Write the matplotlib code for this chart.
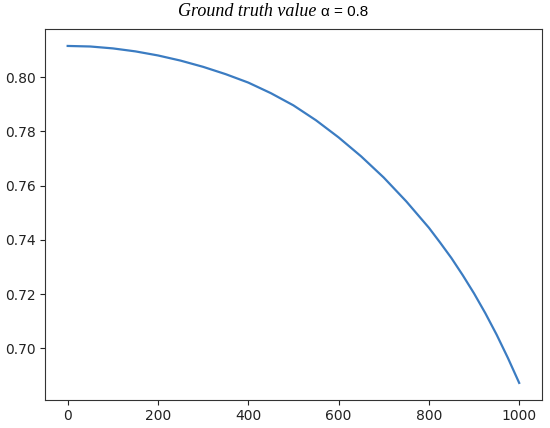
import numpy as np
import matplotlib.pyplot as plt

# values
steps = [0, 50, 100, 150, 200, 250, 300, 350, 400, 450, 500, 550,
         600, 650, 700, 750, 800, 825, 850, 875, 900, 925, 950, 975, 1000]
values = [0.8115, 0.8113, 0.8106, 0.8095, 0.8080, 0.8061, 0.8038, 0.8011,
          0.7980, 0.7941, 0.7896, 0.7841, 0.7778, 0.7708, 0.7630, 0.7542,
          0.7445, 0.7390, 0.7333, 0.7270, 0.7203, 0.7130, 0.7051, 0.6965,
          0.6873]

fig = plt.figure(figsize=(5.5, 4.28), dpi=100)
ax = fig.add_axes([0.082, 0.066, 0.903, 0.866])

ax.plot(steps, values, color='#3b7cc2', linewidth=1.6, solid_joinstyle='round')
ax.set_yticks([0.70, 0.72, 0.74, 0.76, 0.78, 0.80])
ax.set_xticks([0, 200, 400, 600, 800, 1000])
ax.tick_params(labelsize=10, colors='#222222')
for s in ax.spines.values():
    s.set_color('#333333')

# title: italic serif part followed by upright part
t1 = fig.text(0.323, 0.972, 'Ground truth value ', fontsize=13,
              family='Liberation Serif', style='italic', va='center', ha='left')
ax.annotate('\u03b1 = 0.8', xy=(1, 0.5), xycoords=t1, fontsize=11,
            family='Liberation Sans', va='center', ha='left')

fig.savefig('out.png', dpi=100)
